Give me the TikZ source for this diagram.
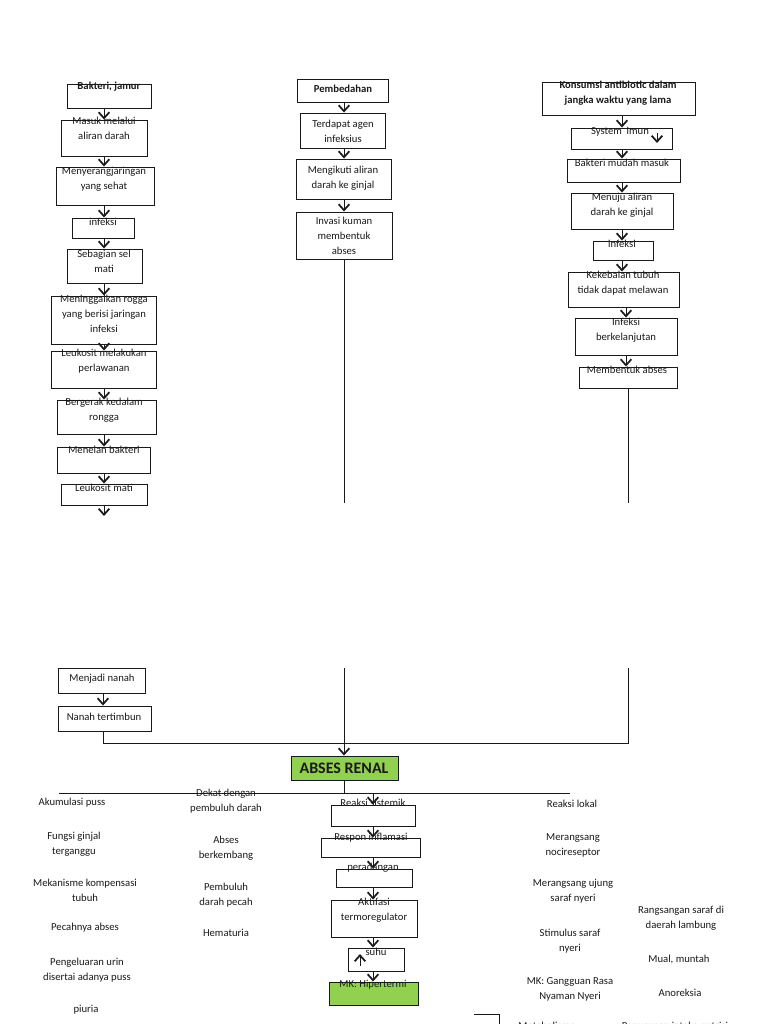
\documentclass[tikz,border=0pt]{standalone}
\usepackage{fontspec}
\setmainfont{Carlito}
\usetikzlibrary{arrows.meta,fit}
\definecolor{mkgreen}{HTML}{92D050}
\definecolor{ink}{HTML}{1A1A1A}
\newcommand{\bxx}[6][box]{\node[#1, fit={(#3,#4) (#5,#6)}] (#2) {};}
\newcommand{\tx}[5][txt]{\node[#1] (#2) at (#3,#4) {#5};}
\begin{document}
\begin{tikzpicture}[x=0.75pt,y=-0.75pt,
 box/.style={draw=ink, line width=0.7pt, inner sep=0pt},
 gbox/.style={box, fill=mkgreen},
 txt/.style={font=\fontsize{8}{11.3}\selectfont, align=center, inner sep=0pt, text=ink},
 btxt/.style={txt, font=\fontsize{8}{11.3}\selectfont\bfseries},
 htxt/.style={txt, font=\fontsize{12}{14}\selectfont\bfseries},
 arr/.style={draw=ink, line width=0.7pt, -{Straight Barb[length=4.5pt,width=8pt,line width=1.3pt]}},
 ln/.style={draw=ink, line width=0.7pt}]
\fill[white] (0,0) rectangle (768,1024);
\useasboundingbox (0,0) rectangle (768,1024);

% ---------- left column ----------
\bxx{L1}{67}{84}{151}{108}   \tx[btxt]{tL1}{109}{87}{Bakteri, jamur}
\bxx{L2}{61}{120}{147}{156}  \tx{tL2}{104}{128}{Masuk melalui\\aliran darah}
\bxx{L3}{56}{167}{154}{205}  \tx{tL3}{104}{179}{Menyerangjaringan\\yang sehat}
\bxx{L4}{72}{218}{134}{238}  \tx{tL4}{103}{222}{infeksi}
\bxx{L5}{67}{249}{142}{283}  \tx{tL5}{104}{261}{Sebagian sel\\mati}
\bxx{L6}{51}{296}{156}{344}  \tx{tL6}{104}{314}{Meninggalkan rogga\\yang berisi jaringan\\infeksi}
\bxx{L7}{51}{351}{156}{388}  \tx{tL7}{104}{361}{Leukosit melakukan\\perlawanan}
\bxx{L8}{57}{400}{156}{434}  \tx{tL8}{104}{410}{Bergerak kedalam\\rongga}
\bxx{L9}{57}{447}{150}{473}  \tx{tL9}{104}{450}{Menelan bakteri}
\bxx{L10}{61}{484}{147}{505} \tx{tL10}{104}{488}{Leukosit mati}

\coordinate (cL) at (104,0);
\foreach \a/\b in {L1/L2,L2/L3,L3/L4,L4/L5,L5/L6,L6/L7,L7/L8,L8/L9,L9/L10}
  \draw[arr] (\a.south -| cL) -- (\b.north -| cL);
\coordinate (Lend) at (104,516);
\draw[arr] (L10.south -| cL) -- (Lend);

% ---------- middle column ----------
\bxx{M1}{297}{79}{388}{102}  \tx[btxt]{tM1}{343}{89}{Pembedahan}
\bxx{M2}{300}{113}{385}{148} \tx{tM2}{343}{131}{Terdapat agen\\infeksius}
\bxx{M3}{296}{159}{391}{199} \tx{tM3}{343}{178}{Mengikuti aliran\\darah ke ginjal}
\bxx{M4}{296}{212}{392}{259} \tx{tM4}{344}{236}{Invasi kuman\\membentuk\\abses}
\coordinate (cM) at (344,0);
\foreach \a/\b in {M1/M2,M2/M3,M3/M4}
  \draw[arr] (\a.south -| cM) -- (\b.north -| cM);
\coordinate (Mend) at (344,503);
\draw[ln] (M4.south -| cM) -- (Mend);

% ---------- right column ----------
\bxx{R1}{542}{82}{695}{115}  \tx[btxt]{tR1}{618}{93}{Konsumsi antibiotic dalam\\jangka waktu yang lama}
\bxx{R2}{571}{128}{672}{149} \tx{tR2}{620}{132}{System\ \ imun}
\bxx{R3}{567}{159}{680}{182} \tx{tR3}{622}{163}{Bakteri mudah masuk}
\bxx{R4}{571}{193}{673}{229} \tx{tR4}{622}{205}{Menuju aliran\\darah ke ginjal}
\bxx{R5}{593}{241}{653}{260} \tx{tR5}{622}{244}{infeksi}
\bxx{R6}{568}{272}{679}{307} \tx{tR6}{623}{283}{Kekebalan tubuh\\tidak dapat melawan}
\bxx{R7}{575}{318}{677}{355} \tx{tR7}{626}{330}{Infeksi\\berkelanjutan}
\bxx{R8}{579}{367}{677}{388} \tx{tR8}{627}{370}{Membentuk abses}
\coordinate (cR) at (622,0);
\coordinate (cR2) at (626,0);
\coordinate (cR3) at (628,0);
\foreach \a/\b in {R1/R2,R2/R3,R3/R4,R4/R5,R5/R6}
  \draw[arr] (\a.south -| cR) -- (\b.north -| cR);
\draw[arr] (R6.south -| cR2) -- (R7.north -| cR2);
\draw[arr] (R7.south -| cR2) -- (R8.north -| cR2);
\coordinate (Rend) at (628,503);
\draw[ln] (R8.south -| cR3) -- (Rend);
\coordinate (sa1) at (657,133);
\coordinate (sa2) at (657,143);
\draw[arr] (sa1) -- (sa2);

% ---------- lower left boxes ----------
\bxx{L11}{58}{668}{145}{693} \tx{tL11}{102}{679}{Menjadi nanah}
\bxx{L12}{58}{706}{151}{731} \tx{tL12}{104}{717}{Nanah tertimbun}
\coordinate (cL2) at (103,0);
\draw[arr] (L11.south -| cL2) -- (L12.north -| cL2);

% ---------- join to ABSES RENAL ----------
\bxx[gbox]{AR}{291}{756}{398}{780} \tx[htxt]{tAR}{344}{768}{ABSES RENAL}
\coordinate (Mtop) at (344,668);
\coordinate (Rtop) at (628,668);
\coordinate (J) at (628,743);
\draw[arr] (Mtop) -- (AR.north -| Mtop);
\draw[ln] (L12.south -| cL2) |- (J) -- (Rtop);

\coordinate (HL) at (59,793);
\coordinate (HR) at (570,793);
\draw[ln] (HL) -- (HR);
\draw[ln] (AR.south -| Mtop) -- (HL -| Mtop);

% ---------- lower middle chain ----------
\bxx{S1}{331}{805}{415}{826}  \tx{tS1}{373}{803}{Reaksi sistemik}
\bxx{S2}{321}{838}{420}{857}  \tx{tS2}{371}{838}{Respon inflamasi}
\bxx{S3}{336}{869}{412}{887}  \tx{tS3}{373}{868}{peradangan}
\bxx{S4}{331}{900}{417}{937}  \tx{tS4}{374}{910}{Aktifasi\\termoregulator}
\bxx{S5}{348}{948}{404}{971}  \tx{tS5}{376}{952}{suhu}
\bxx[gbox]{S6}{329}{982}{418}{1005} \tx{tS6}{373}{985}{MK: Hipertermi}
\coordinate (cS) at (373,793);
\draw[arr] (cS) -- (S1.north -| cS);
\foreach \a/\b in {S1/S2,S2/S3,S3/S4,S4/S5,S5/S6}
  \draw[arr] (\a.south -| cS) -- (\b.north -| cS);
\coordinate (ua1) at (360,966);
\coordinate (ua2) at (360,954);
\draw[arr] (ua1) -- (ua2);

% ---------- lower left texts ----------
\tx{a1}{72}{803}{Akumulasi puss}
\tx{a2}{74}{844}{Fungsi ginjal\\terganggu}
\tx{a3}{85}{890}{Mekanisme kompensasi\\tubuh}
\tx{a4}{85}{928}{Pecahnya abses}
\tx{a5}{87}{970}{Pengeluaran urin\\disertai adanya puss}
\tx{a6}{86}{1010}{piuria}

\tx{b1}{226}{801}{Dekat dengan\\pembuluh darah}
\tx{b2}{226}{848}{Abses\\berkembang}
\tx{b3}{226}{895}{Pembuluh\\darah pecah}
\tx{b4}{226}{933}{Hematuria}

% ---------- lower right texts ----------
\tx{c1}{572}{804}{Reaksi lokal}
\tx{c2}{573}{845}{Merangsang\\nocireseptor}
\tx{c3}{573}{891}{Merangsang ujung\\saraf nyeri}
\tx{c4}{570}{941}{Stimulus saraf\\nyeri}
\tx{c5}{570}{989}{MK: Gangguan Rasa\\Nyaman Nyeri}
\tx{c6}{547}{1026}{Metabolisme}

\tx{d1}{681}{918}{Rangsangan saraf di\\daerah lambung}
\tx{d2}{679}{959}{Mual, muntah}
\tx{d3}{680}{993}{Anoreksia}
\tx{d4}{675}{1026}{Penurunan intake nutrisi}

\coordinate (B1) at (474,1014);
\coordinate (B2) at (499,1014);
\coordinate (B3) at (499,1030);
\draw[ln] (B1) -- (B2) -- (B3);
\end{tikzpicture}
\end{document}
